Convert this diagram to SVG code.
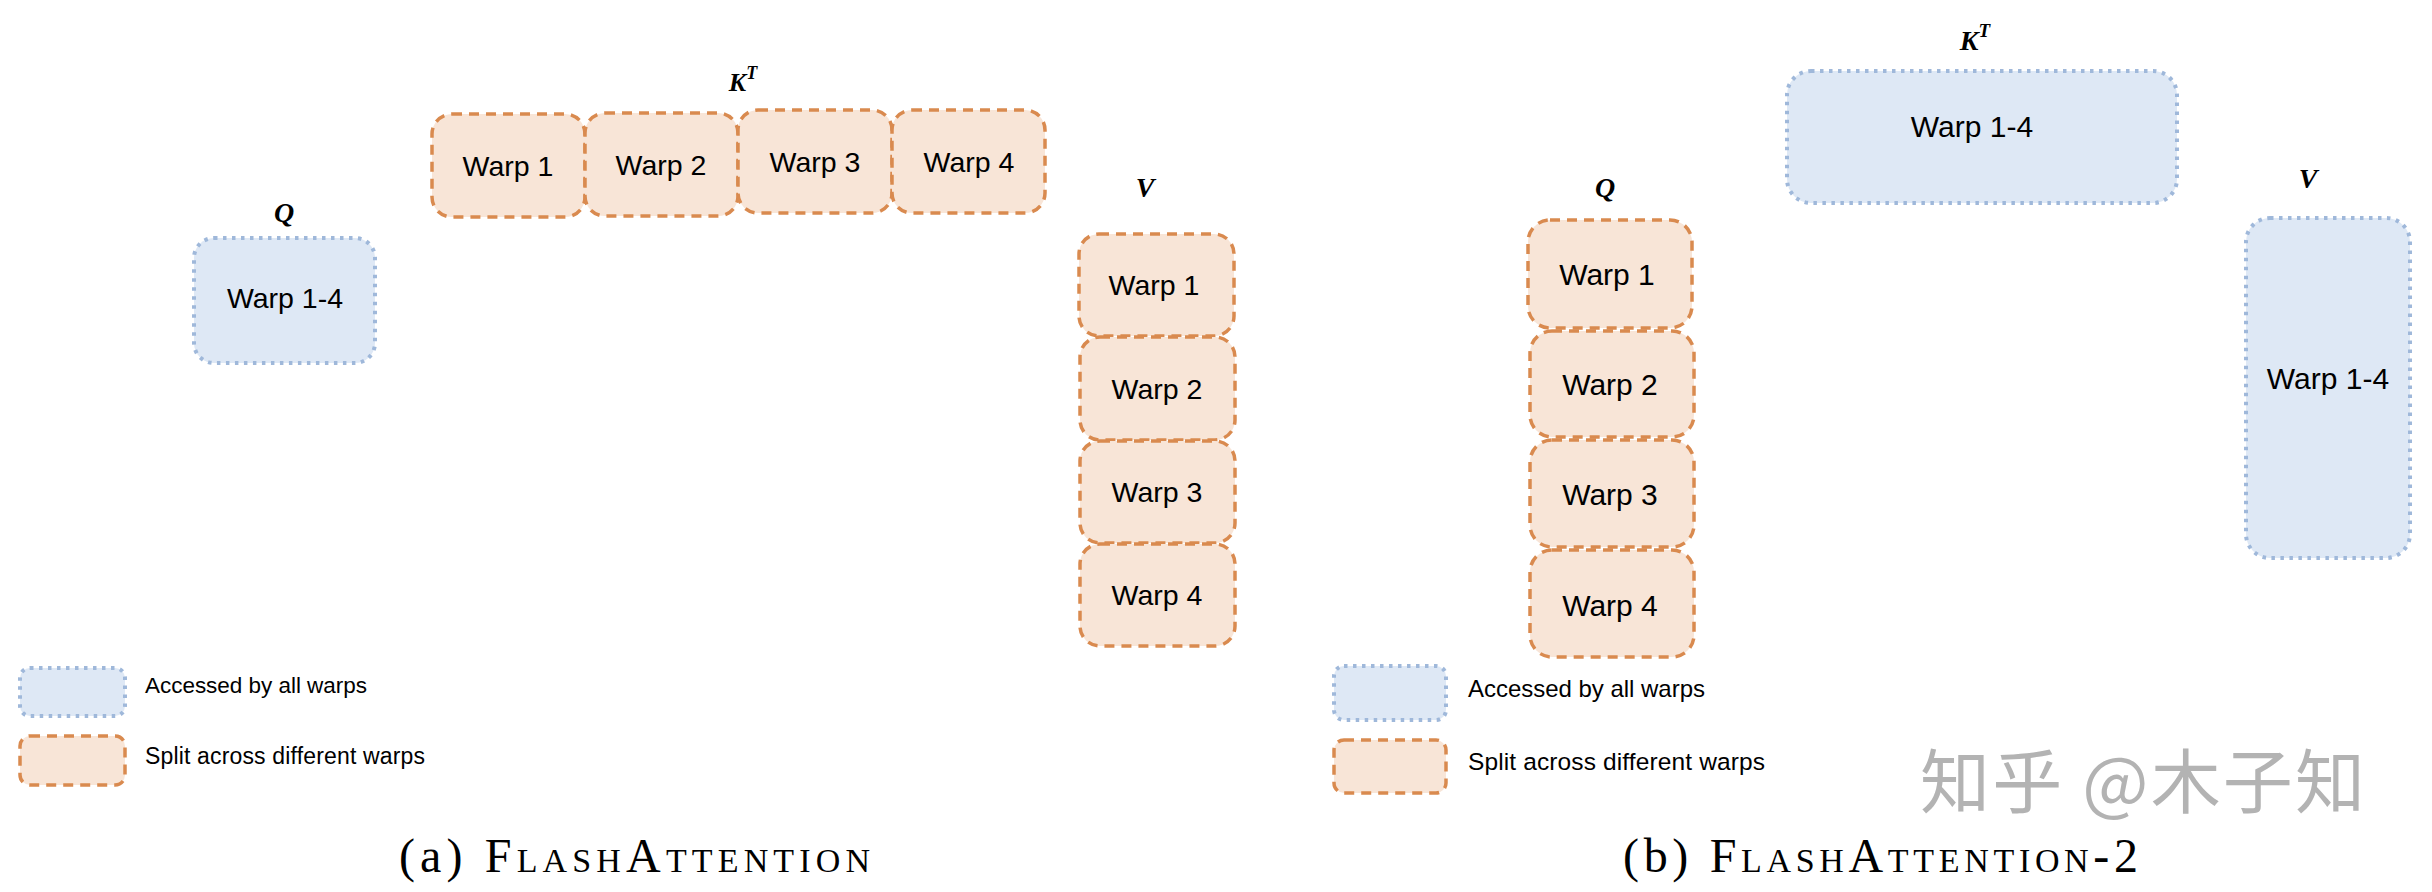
<svg xmlns="http://www.w3.org/2000/svg" width="2432" height="892" viewBox="0 0 2432 892">
<style>
.split{fill:#F8E5D7;stroke:#D98A4F;stroke-width:3.5;stroke-dasharray:10 7;}
.all{fill:#DEE8F5;stroke:#9FB8DA;stroke-width:4;stroke-dasharray:3.5 5.5;}
.w{font-family:"Liberation Sans",Arial,sans-serif;font-size:28.5px;fill:#000;text-anchor:middle;}
.wb{font-family:"Liberation Sans",Arial,sans-serif;font-size:30px;fill:#000;text-anchor:middle;}
.math{font-family:"Liberation Serif","Times New Roman",serif;font-weight:bold;font-style:italic;fill:#000;text-anchor:middle;}
.leg{font-family:"Liberation Sans",Arial,sans-serif;fill:#000;}
.cap{font-family:"Liberation Serif","Times New Roman",serif;font-size:48px;fill:#000;}
.sc{font-variant:small-caps;}
.wm{font-family:"Noto Sans CJK SC","Noto Sans",sans-serif;font-size:70px;fill:#B3B3B3;}
</style>
<rect width="2432" height="892" fill="#fff"/>
<g id="connectors"/>

<!-- Panel (a) -->
<g id="a-Q">
  <text class="math" x="284" y="222" font-size="28">Q</text>
  <rect class="all" x="194" y="238" width="181" height="125" rx="20"/>
  <text class="w" x="285" y="308">Warp 1-4</text>
</g>
<g id="a-KT">
  <text class="math" x="743" y="91" font-size="26" text-anchor="middle">K<tspan font-size="18" dy="-12">T</tspan></text>
  <g id="a-KT-w1"><rect class="split" x="432" y="114" width="153" height="103" rx="20"/><text class="w" x="508" y="176">Warp 1</text></g>
  <g id="a-KT-w2"><rect class="split" x="585" y="113" width="153" height="103" rx="20"/><text class="w" x="661" y="175">Warp 2</text></g>
  <g id="a-KT-w3"><rect class="split" x="738" y="110" width="154" height="103" rx="20"/><text class="w" x="815" y="172">Warp 3</text></g>
  <g id="a-KT-w4"><rect class="split" x="892" y="110" width="153" height="103" rx="20"/><text class="w" x="969" y="172">Warp 4</text></g>
</g>
<g id="a-V">
  <text class="math" x="1145" y="197" font-size="28">V</text>
  <g id="a-V-w1"><rect class="split" x="1079" y="234" width="155" height="102" rx="20"/><text class="w" x="1154" y="295">Warp 1</text></g>
  <g id="a-V-w2"><rect class="split" x="1080" y="337" width="155" height="103" rx="20"/><text class="w" x="1157" y="399">Warp 2</text></g>
  <g id="a-V-w3"><rect class="split" x="1080" y="441" width="155" height="102" rx="20"/><text class="w" x="1157" y="502">Warp 3</text></g>
  <g id="a-V-w4"><rect class="split" x="1080" y="544" width="155" height="102" rx="20"/><text class="w" x="1157" y="605">Warp 4</text></g>
</g>
<g id="a-legend">
  <rect class="all" x="20" y="668" width="105" height="48" rx="10"/>
  <text class="leg" x="145" y="693" font-size="22.5" textLength="222">Accessed by all warps</text>
  <rect class="split" x="20" y="736" width="105" height="49" rx="10"/>
  <text class="leg" x="145" y="764" font-size="23" textLength="280">Split across different warps</text>
</g>
<text id="a-caption" class="cap" x="399" y="872" textLength="471">(a) <tspan class="sc">FlashAttention</tspan></text>

<!-- Panel (b) -->
<g id="b-Q">
  <text class="math" x="1605" y="197" font-size="28">Q</text>
  <g id="b-Q-w1"><rect class="split" x="1528" y="220" width="164" height="108" rx="22"/><text class="wb" x="1607" y="285">Warp 1</text></g>
  <g id="b-Q-w2"><rect class="split" x="1530" y="331" width="164" height="106" rx="22"/><text class="wb" x="1610" y="395">Warp 2</text></g>
  <g id="b-Q-w3"><rect class="split" x="1530" y="440" width="164" height="107" rx="22"/><text class="wb" x="1610" y="505">Warp 3</text></g>
  <g id="b-Q-w4"><rect class="split" x="1530" y="550" width="164" height="107" rx="22"/><text class="wb" x="1610" y="616">Warp 4</text></g>
</g>
<g id="b-KT">
  <text class="math" x="1975" y="50" font-size="28" text-anchor="middle">K<tspan font-size="19" dy="-13">T</tspan></text>
  <rect class="all" x="1787" y="71" width="390" height="132" rx="24"/>
  <text class="wb" x="1972" y="137">Warp 1-4</text>
</g>
<g id="b-V">
  <text class="math" x="2308" y="188" font-size="28">V</text>
  <rect class="all" x="2246" y="218" width="164" height="340" rx="24"/>
  <text class="wb" x="2328" y="389" font-size="31">Warp 1-4</text>
</g>
<g id="b-legend">
  <rect class="all" x="1334" y="666" width="112" height="54" rx="10"/>
  <text class="leg" x="1468" y="697" font-size="24" textLength="237">Accessed by all warps</text>
  <rect class="split" x="1334" y="740" width="112" height="53" rx="10"/>
  <text class="leg" x="1468" y="770" font-size="24.5" textLength="297">Split across different warps</text>
</g>
<text id="b-caption" class="cap" x="1623" y="872" textLength="515">(b) <tspan class="sc">FlashAttention-2</tspan></text>

<text id="watermark" class="wm" x="1920" y="808" textLength="445">知乎 @木子知</text>
</svg>
